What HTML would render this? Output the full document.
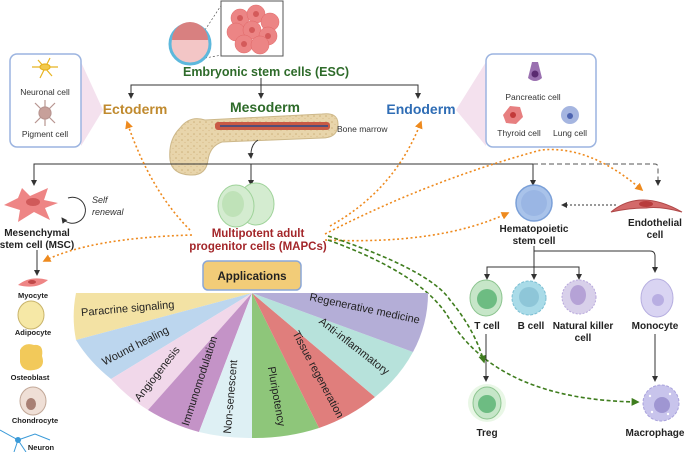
<!DOCTYPE html>
<html><head><meta charset="utf-8"><style>
html,body{margin:0;padding:0;background:#fff;}
svg{display:block;font-family:"Liberation Sans",sans-serif;}
</style></head><body>
<svg width="685" height="452" viewBox="0 0 685 452" xmlns="http://www.w3.org/2000/svg">
<defs>
<marker id="ab" markerWidth="6" markerHeight="6" refX="5" refY="3" orient="auto"><path d="M0,0 L6,3 L0,6 Z" fill="#333"/></marker>
<marker id="ao" markerWidth="5" markerHeight="5" refX="4" refY="2.5" orient="auto"><path d="M0,0 L5,2.5 L0,5 Z" fill="#ee8a1e"/></marker>
<marker id="ag" markerWidth="5" markerHeight="5" refX="4" refY="2.5" orient="auto"><path d="M0,0 L5,2.5 L0,5 Z" fill="#3f7d1e"/></marker>
<pattern id="sp" width="6" height="6" patternUnits="userSpaceOnUse"><rect width="6" height="6" fill="#e8d5ab"/><circle cx="2" cy="2" r="0.8" fill="#cdb07a"/><circle cx="5" cy="4.5" r="0.6" fill="#d8bd8a"/></pattern>
</defs>

<line x1="205" y1="30" x2="222" y2="4" stroke="#555" stroke-width="0.7" stroke-dasharray="2,2"/>
<line x1="205" y1="58" x2="222" y2="55" stroke="#555" stroke-width="0.7" stroke-dasharray="2,2"/>
<circle cx="190" cy="44" r="20" fill="#f3c6c6" stroke="#5db8dc" stroke-width="3"/>
<path d="M172,40 A18,18 0 0 1 208,40 Z" fill="#d88080"/>
<rect x="221" y="1" width="62" height="55" fill="#fff" stroke="#555" stroke-width="1"/>
<g fill="#ec8585" stroke="#e06666" stroke-width="0.5">
<circle cx="240" cy="18" r="9"/><circle cx="256" cy="14" r="9"/><circle cx="270" cy="22" r="9"/>
<circle cx="236" cy="32" r="9"/><circle cx="252" cy="30" r="9"/><circle cx="268" cy="36" r="9"/>
<circle cx="244" cy="44" r="9"/><circle cx="260" cy="45" r="9"/></g>
<g fill="#d45a5a"><circle cx="240" cy="18" r="3"/><circle cx="256" cy="14" r="3"/><circle cx="252" cy="30" r="3"/><circle cx="244" cy="44" r="3"/><circle cx="268" cy="36" r="3"/></g>
<text x="266" y="76" font-size="12.5" font-weight="bold" fill="#2e6b2a" text-anchor="middle">Embryonic stem cells (ESC)</text>

<path d="M131,98 V85 H418 V98" fill="none" stroke="#333" stroke-width="1" marker-end="url(#ab)"/>
<line x1="131" y1="85" x2="131" y2="98" stroke="#333" marker-end="url(#ab)"/>
<line x1="261" y1="78" x2="261" y2="98" stroke="#333" marker-end="url(#ab)"/>

<path d="M81,62 L103,110 L81,146 Z" fill="#f4e1ee"/>
<path d="M486,62 L456,110 L486,146 Z" fill="#f4e1ee"/>
<rect x="10" y="54" width="71" height="93" rx="7" fill="#fff" stroke="#9cb4e0" stroke-width="1.5"/>
<rect x="486" y="54" width="110" height="93" rx="7" fill="#fff" stroke="#9cb4e0" stroke-width="1.5"/>
<g stroke="#e8b420" stroke-width="1.2"><line x1="32" y1="67" x2="58" y2="67"/><line x1="38" y1="60" x2="52" y2="76"/><line x1="50" y1="58" x2="40" y2="78"/><ellipse cx="45" cy="67" rx="5" ry="3" fill="#f2c94c"/></g>
<text x="45" y="95" font-size="8.5" text-anchor="middle" fill="#333">Neuronal cell</text>
<g stroke="#b89590" stroke-width="1.2"><line x1="35" y1="103" x2="55" y2="123"/><line x1="55" y1="103" x2="35" y2="123"/><line x1="45" y1="100" x2="45" y2="126"/><circle cx="45" cy="113" r="6" fill="#c7a09a"/></g>
<text x="45" y="137" font-size="8.5" text-anchor="middle" fill="#333">Pigment cell</text>
<path d="M528,78 L532,62 L538,62 L542,78 Q535,84 528,78Z" fill="#9a70b0"/><circle cx="535" cy="74" r="3.5" fill="#5a2a70"/>
<text x="533" y="100" font-size="8.5" text-anchor="middle" fill="#333">Pancreatic cell</text>
<path d="M503,115 L510,106 L520,107 L523,117 L516,124 L506,123 Z" fill="#e77f80"/><circle cx="513" cy="115" r="3" fill="#c23a3a"/>
<text x="519" y="136" font-size="8.5" text-anchor="middle" fill="#333">Thyroid cell</text>
<circle cx="570" cy="115" r="9" fill="#a5b5e0"/><circle cx="570" cy="116" r="3" fill="#4d64b0"/>
<text x="570" y="136" font-size="8.5" text-anchor="middle" fill="#333">Lung cell</text>

<text x="135" y="114" font-size="14" font-weight="bold" fill="#c08a2e" text-anchor="middle">Ectoderm</text>
<text x="265" y="112" font-size="14" font-weight="bold" fill="#2e6b2a" text-anchor="middle">Mesoderm</text>
<text x="421" y="114" font-size="14" font-weight="bold" fill="#2f6db5" text-anchor="middle">Endoderm</text>

<path d="M180,128 Q190,115 205,120 L322,114 Q338,112 338,124 Q338,138 322,138 L222,142 Q210,146 208,160 Q206,176 190,175 Q172,174 170,160 Q168,140 180,128 Z" fill="url(#sp)" stroke="#cdb88a" stroke-width="1"/>
<rect x="215" y="122" width="115" height="8" rx="3" fill="#c95a45"/>
<line x1="220" y1="126" x2="328" y2="126" stroke="#2b4a8a" stroke-width="1.5"/>
<text x="337" y="132" font-size="8.5" fill="#333">Bone marrow</text>
<path d="M258,140 Q250,145 251,158" fill="none" stroke="#333" marker-end="url(#ab)"/>

<path d="M34,185 V164 H533 V185" fill="none" stroke="#333" marker-end="url(#ab)"/>
<line x1="34" y1="164" x2="34" y2="185" stroke="#333" marker-end="url(#ab)"/>
<line x1="251" y1="164" x2="251" y2="185" stroke="#333" marker-end="url(#ab)"/>
<path d="M533,164 H655 Q658,164 658,168 V185" fill="none" stroke="#555" stroke-dasharray="5,3" marker-end="url(#ab)"/>

<path d="M4,205 L18,198 L22,188 L30,196 L48,188 L44,200 L58,203 L45,208 L50,220 L34,212 L18,222 L20,210 Z" fill="#ee8585"/>
<ellipse cx="33" cy="202" rx="7" ry="4" fill="#d05a5a"/>
<path d="M68,198 A13,13 0 1 1 62,218" fill="none" stroke="#333" marker-end="url(#ab)"/>
<text x="92" y="203" font-size="9" font-style="italic" fill="#333">Self</text>
<text x="92" y="215" font-size="9" font-style="italic" fill="#333">renewal</text>
<text x="37" y="236" font-size="10" font-weight="bold" fill="#222" text-anchor="middle">Mesenchymal</text>
<text x="37" y="248" font-size="10" font-weight="bold" fill="#222" text-anchor="middle">stem cell (MSC)</text>

<ellipse cx="256" cy="204" rx="18" ry="21" fill="#d4ecd0" stroke="#9fd39a"/>
<ellipse cx="236" cy="206" rx="18" ry="21" fill="#d4ecd0" stroke="#9fd39a"/>
<ellipse cx="233" cy="204" rx="11" ry="13" fill="#bfe2b8"/>
<text x="258" y="237" font-size="11.5" font-weight="bold" fill="#a3262a" text-anchor="middle">Multipotent adult</text>
<text x="258" y="250" font-size="11.5" font-weight="bold" fill="#a3262a" text-anchor="middle">progenitor cells (MAPCs)</text>

<circle cx="534" cy="203" r="18" fill="#a9c3ea" stroke="#7ba0d8" stroke-width="1.5"/>
<circle cx="534" cy="203" r="13" fill="#9ab6e4"/>
<text x="534" y="232" font-size="10" font-weight="bold" fill="#222" text-anchor="middle">Hematopoietic</text>
<text x="534" y="244" font-size="10" font-weight="bold" fill="#222" text-anchor="middle">stem cell</text>
<path d="M611,212 Q640,188 682,212 Q660,206 646,208 Q628,208 611,212Z" fill="#d36a6a" stroke="#b04848"/>
<ellipse cx="646" cy="204" rx="7" ry="3" fill="#b83c3c"/>
<text x="655" y="226" font-size="10" font-weight="bold" fill="#222" text-anchor="middle">Endothelial</text>
<text x="655" y="238" font-size="10" font-weight="bold" fill="#222" text-anchor="middle">cell</text>
<line x1="616" y1="205" x2="562" y2="205" stroke="#333" stroke-dasharray="2,2" marker-end="url(#ab)"/>

<g fill="none" stroke="#ee8a1e" stroke-width="1.6" stroke-dasharray="2,2.5">
<path d="M190,230 Q150,190 127,122" marker-end="url(#ao)"/>
<path d="M330,226 Q395,190 421,122" marker-end="url(#ao)"/>
<path d="M325,234 Q430,180 541,150 Q590,145 642,190" marker-end="url(#ao)"/>
<path d="M325,240 Q440,245 508,213" marker-end="url(#ao)"/>
<path d="M192,235 Q90,238 44,261" marker-end="url(#ao)"/>
</g>
<g fill="none" stroke="#3f7d1e" stroke-width="1.6" stroke-dasharray="4,2.5">
<path d="M328,236 Q430,270 450,300 Q475,330 484,362" marker-end="url(#ag)"/>
<path d="M328,240 Q425,275 450,320 Q500,400 638,402" marker-end="url(#ag)"/>
</g>

<path d="M534,246 V267" stroke="#333" fill="none"/>
<path d="M534,251 H650 Q655,251 655,256 V272" stroke="#333" fill="none" marker-end="url(#ab)"/>
<path d="M487,279 V267 H579 V279" stroke="#333" fill="none" marker-end="url(#ab)"/>
<line x1="487" y1="267" x2="487" y2="279" stroke="#333" marker-end="url(#ab)"/>
<line x1="534" y1="267" x2="534" y2="279" stroke="#333" marker-end="url(#ab)"/>
<ellipse cx="486" cy="298" rx="16" ry="18" fill="#c6e6c8" stroke="#8cc48f"/><circle cx="487" cy="299" r="10" fill="#6dbc82"/>
<circle cx="529" cy="298" r="17" fill="#a9dbe8" stroke="#7bbfd3" stroke-dasharray="3,1.5"/><circle cx="529" cy="297" r="10" fill="#8ec6d8"/>
<circle cx="579" cy="297" r="17" fill="#d8d0ea" stroke="#b8a8dc" stroke-dasharray="2,1.5"/><ellipse cx="578" cy="295" rx="8" ry="10" fill="#b5a2d6"/>
<ellipse cx="657" cy="298" rx="16" ry="19" fill="#d9d4f2" stroke="#b6aee0"/><circle cx="658" cy="300" r="6" fill="#b8aee2"/>
<text x="487" y="329" font-size="10" font-weight="bold" fill="#222" text-anchor="middle">T cell</text>
<text x="531" y="329" font-size="10" font-weight="bold" fill="#222" text-anchor="middle">B cell</text>
<text x="583" y="329" font-size="10" font-weight="bold" fill="#222" text-anchor="middle">Natural killer</text>
<text x="583" y="341" font-size="10" font-weight="bold" fill="#222" text-anchor="middle">cell</text>
<text x="655" y="329" font-size="10" font-weight="bold" fill="#222" text-anchor="middle">Monocyte</text>
<line x1="486" y1="334" x2="486" y2="381" stroke="#333" marker-end="url(#ab)"/>
<line x1="655" y1="334" x2="655" y2="381" stroke="#333" marker-end="url(#ab)"/>
<circle cx="487" cy="403" r="19" fill="#e3f5e0" opacity="0.8"/>
<ellipse cx="487" cy="403" rx="14" ry="16" fill="#c6e6c8" stroke="#8cc48f"/><circle cx="487" cy="404" r="9" fill="#6dbc82"/>
<text x="487" y="436" font-size="10" font-weight="bold" fill="#222" text-anchor="middle">Treg</text>
<circle cx="661" cy="403" r="18" fill="#c8c4ec" stroke="#a9a2dc" stroke-dasharray="3,1.5"/><circle cx="662" cy="405" r="8" fill="#9f96d2"/>
<g fill="#fff"><circle cx="650" cy="396" r="1.2"/><circle cx="670" cy="394" r="1.2"/><circle cx="668" cy="414" r="1.2"/><circle cx="652" cy="412" r="1.2"/></g>
<text x="655" y="436" font-size="10" font-weight="bold" fill="#222" text-anchor="middle">Macrophage</text>

<line x1="37" y1="250" x2="37" y2="275" stroke="#333" marker-end="url(#ab)"/>
<path d="M18,285 Q30,275 48,280 Q36,290 18,285Z" fill="#ee8585"/><ellipse cx="32" cy="282" rx="4" ry="2" fill="#c04848"/>
<text x="33" y="298" font-size="7.5" font-weight="bold" fill="#222" text-anchor="middle">Myocyte</text>
<ellipse cx="31" cy="315" rx="13" ry="14" fill="#f6e8a6" stroke="#c9b46a"/>
<text x="33" y="335" font-size="7.5" font-weight="bold" fill="#222" text-anchor="middle">Adipocyte</text>
<path d="M20,350 Q24,342 34,345 Q44,344 42,356 Q46,368 34,370 Q22,372 20,362 Z" fill="#f2c95a"/>
<text x="30" y="380" font-size="7.5" font-weight="bold" fill="#222" text-anchor="middle">Osteoblast</text>
<ellipse cx="33" cy="401" rx="13" ry="14" fill="#efdfd6" stroke="#c2a898"/><ellipse cx="31" cy="404" rx="5" ry="6" fill="#a88074"/>
<text x="35" y="423" font-size="7.5" font-weight="bold" fill="#222" text-anchor="middle">Chondrocyte</text>
<g stroke="#3a9ad8" stroke-width="1" fill="none"><path d="M0,430 L18,440 L26,452 M18,440 L35,434 L50,440 M18,440 L14,452"/></g>
<circle cx="18" cy="440" r="3" fill="#3a9ad8"/>
<text x="41" y="450" font-size="7.5" font-weight="bold" fill="#222" text-anchor="middle">Neuron</text>

<g stroke="none">
<path d="M252,293 L76,293 A176,145 0 0 0 76,340 Z" fill="#f3e2a4"/>
<path d="M252,293 L76,340 A176,145 0 0 0 111,379 Z" fill="#bcd6ee"/>
<path d="M252,293 L111,379 A176,145 0 0 0 148,410 Z" fill="#f1d8ea"/>
<path d="M252,293 L148,410 A176,145 0 0 0 199,432 Z" fill="#c493c7"/>
<path d="M252,293 L199,432 A176,145 0 0 0 252,438 Z" fill="#def0f4"/>
<path d="M252,293 L252,438 A176,145 0 0 0 319,428 Z" fill="#8ec67a"/>
<path d="M252,293 L319,428 A176,145 0 0 0 375,397 Z" fill="#e07e7c"/>
<path d="M252,293 L375,397 A176,145 0 0 0 413,352 Z" fill="#b7e2db"/>
<path d="M252,293 L413,352 A176,145 0 0 0 428,293 Z" fill="#b4aed7"/>
</g>
<g font-size="11" fill="#222" text-anchor="middle">
<text transform="translate(128,312) rotate(-5)">Paracrine signaling</text>
<text transform="translate(137,349) rotate(-27)">Wound healing</text>
<text transform="translate(160,376) rotate(-52)">Angiogenesis</text>
<text transform="translate(203,382) rotate(-72)">Immunomodulation</text>
<text transform="translate(234,397) rotate(-85)">Non-senescent</text>
<text transform="translate(273,397) rotate(80)">Pluripotency</text>
<text transform="translate(315,376) rotate(62)">Tissue regeneration</text>
<text transform="translate(352,349) rotate(38)">Anti-inflammatory</text>
<text transform="translate(364,312) rotate(12)">Regenerative medicine</text>
</g>
<rect x="203" y="261" width="98" height="29" rx="5" fill="#f2cc78" stroke="#8aa7d8" stroke-width="1.5"/>
<text x="252" y="280" font-size="11.5" font-weight="bold" fill="#222" text-anchor="middle">Applications</text>
</svg>
</body></html>
